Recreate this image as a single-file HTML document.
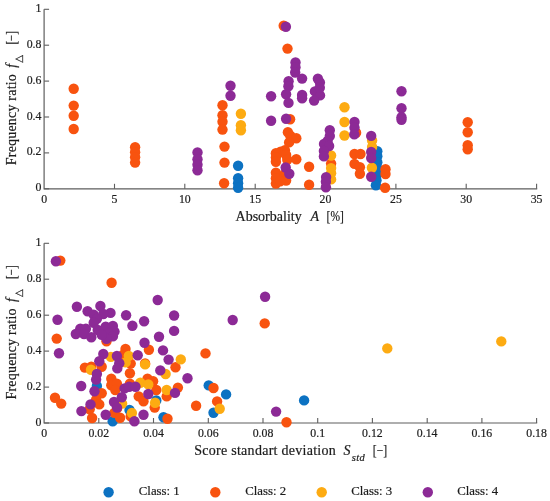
<!DOCTYPE html>
<html><head><meta charset="utf-8"><title>Scatter plots</title>
<style>
html,body{margin:0;padding:0;background:#fff}
svg{display:block}
text{font-family:"Liberation Serif","DejaVu Serif",serif;fill:#1c1c1c;stroke:#1c1c1c;stroke-width:0.2px}
.t{font-size:11.8px}
.l{font-size:14px}
.g{font-size:12.8px}
.i{font-style:italic}
</style></head><body>
<svg width="550" height="501" viewBox="0 0 550 501">
<rect width="550" height="501" fill="#fff"/>
<g id="top">
<path d="M44.1 9.3 V188.8 H537.2" fill="none" stroke="#5e5e5e" stroke-width="1.2"/>
<path d="M44.1 188.8 h5" stroke="#5e5e5e" stroke-width="1.1"/>
<path d="M44.1 152.9 h5" stroke="#5e5e5e" stroke-width="1.1"/>
<path d="M44.1 117.0 h5" stroke="#5e5e5e" stroke-width="1.1"/>
<path d="M44.1 81.1 h5" stroke="#5e5e5e" stroke-width="1.1"/>
<path d="M44.1 45.2 h5" stroke="#5e5e5e" stroke-width="1.1"/>
<path d="M44.1 9.3 h5" stroke="#5e5e5e" stroke-width="1.1"/>
<path d="M114.5 188.8 v-5" stroke="#5e5e5e" stroke-width="1.1"/>
<path d="M184.8 188.8 v-5" stroke="#5e5e5e" stroke-width="1.1"/>
<path d="M255.2 188.8 v-5" stroke="#5e5e5e" stroke-width="1.1"/>
<path d="M325.5 188.8 v-5" stroke="#5e5e5e" stroke-width="1.1"/>
<path d="M395.9 188.8 v-5" stroke="#5e5e5e" stroke-width="1.1"/>
<path d="M466.2 188.8 v-5" stroke="#5e5e5e" stroke-width="1.1"/>
<path d="M536.6 188.8 v-5" stroke="#5e5e5e" stroke-width="1.1"/>
<g fill="#0C72C2"><circle cx="238.1" cy="165.7" r="5.2"/><circle cx="238.1" cy="178.2" r="5.2"/><circle cx="238.1" cy="183.2" r="5.2"/><circle cx="238.1" cy="187.8" r="5.2"/><circle cx="377.3" cy="151.2" r="5.2"/><circle cx="377.3" cy="156.2" r="5.2"/><circle cx="377.3" cy="162.2" r="5.2"/><circle cx="377.3" cy="168.2" r="5.2"/><circle cx="377.1" cy="174.2" r="5.2"/><circle cx="376.5" cy="180.2" r="5.2"/><circle cx="375.9" cy="185.2" r="5.2"/></g>
<g fill="#F8530F"><circle cx="73.7" cy="88.8" r="5.2"/><circle cx="73.7" cy="105.6" r="5.2"/><circle cx="73.7" cy="115.8" r="5.2"/><circle cx="73.7" cy="129.0" r="5.2"/><circle cx="135.1" cy="147.2" r="5.2"/><circle cx="135.1" cy="152.2" r="5.2"/><circle cx="135.1" cy="157.2" r="5.2"/><circle cx="135.1" cy="162.6" r="5.2"/><circle cx="222.5" cy="105.2" r="5.2"/><circle cx="222.5" cy="115.2" r="5.2"/><circle cx="222.5" cy="121.8" r="5.2"/><circle cx="222.5" cy="129.6" r="5.2"/><circle cx="224.5" cy="146.6" r="5.2"/><circle cx="224.5" cy="162.6" r="5.2"/><circle cx="224.1" cy="183.2" r="5.2"/><circle cx="283.7" cy="25.8" r="5.2"/><circle cx="287.5" cy="48.6" r="5.2"/><circle cx="290.1" cy="119.2" r="5.2"/><circle cx="287.9" cy="132.2" r="5.2"/><circle cx="280.6" cy="151.7" r="5.2"/><circle cx="290.3" cy="135.8" r="5.2"/><circle cx="296.3" cy="138.2" r="5.2"/><circle cx="289.1" cy="142.4" r="5.2"/><circle cx="284.9" cy="150.2" r="5.2"/><circle cx="275.9" cy="153.2" r="5.2"/><circle cx="275.9" cy="157.4" r="5.2"/><circle cx="275.9" cy="161.8" r="5.2"/><circle cx="286.1" cy="155.0" r="5.2"/><circle cx="287.3" cy="159.8" r="5.2"/><circle cx="296.3" cy="159.2" r="5.2"/><circle cx="309.1" cy="166.8" r="5.2"/><circle cx="309.1" cy="184.8" r="5.2"/><circle cx="275.9" cy="172.8" r="5.2"/><circle cx="275.9" cy="178.2" r="5.2"/><circle cx="275.9" cy="183.6" r="5.2"/><circle cx="284.9" cy="174.0" r="5.2"/><circle cx="286.1" cy="180.6" r="5.2"/><circle cx="280.1" cy="181.2" r="5.2"/><circle cx="331.1" cy="163.6" r="5.2"/><circle cx="356.1" cy="132.8" r="5.2"/><circle cx="354.5" cy="154.0" r="5.2"/><circle cx="360.5" cy="154.0" r="5.2"/><circle cx="354.5" cy="163.9" r="5.2"/><circle cx="359.9" cy="167.2" r="5.2"/><circle cx="359.9" cy="173.8" r="5.2"/><circle cx="385.5" cy="169.2" r="5.2"/><circle cx="385.5" cy="174.0" r="5.2"/><circle cx="385.1" cy="187.8" r="5.2"/><circle cx="467.7" cy="122.2" r="5.2"/><circle cx="467.7" cy="132.2" r="5.2"/><circle cx="467.7" cy="145.2" r="5.2"/><circle cx="467.7" cy="149.2" r="5.2"/></g>
<g fill="#FDAB12"><circle cx="240.9" cy="113.8" r="5.2"/><circle cx="240.9" cy="125.2" r="5.2"/><circle cx="240.9" cy="130.2" r="5.2"/><circle cx="344.5" cy="107.2" r="5.2"/><circle cx="344.5" cy="122.0" r="5.2"/><circle cx="344.5" cy="135.5" r="5.2"/><circle cx="331.1" cy="155.5" r="5.2"/><circle cx="331.1" cy="168.1" r="5.2"/><circle cx="331.1" cy="173.2" r="5.2"/><circle cx="331.1" cy="179.4" r="5.2"/><circle cx="372.1" cy="140.5" r="5.2"/><circle cx="372.1" cy="147.0" r="5.2"/><circle cx="371.9" cy="167.7" r="5.2"/></g>
<g fill="#8C2A96"><circle cx="197.5" cy="152.4" r="5.2"/><circle cx="197.5" cy="159.2" r="5.2"/><circle cx="197.5" cy="164.8" r="5.2"/><circle cx="197.5" cy="170.2" r="5.2"/><circle cx="230.5" cy="85.8" r="5.2"/><circle cx="230.5" cy="95.8" r="5.2"/><circle cx="271.1" cy="96.2" r="5.2"/><circle cx="271.1" cy="120.7" r="5.2"/><circle cx="285.9" cy="26.8" r="5.2"/><circle cx="295.5" cy="62.4" r="5.2"/><circle cx="295.5" cy="67.2" r="5.2"/><circle cx="295.2" cy="72.5" r="5.2"/><circle cx="302.1" cy="78.6" r="5.2"/><circle cx="288.6" cy="81.2" r="5.2"/><circle cx="288.4" cy="86.2" r="5.2"/><circle cx="317.9" cy="78.8" r="5.2"/><circle cx="319.9" cy="82.4" r="5.2"/><circle cx="314.9" cy="91.4" r="5.2"/><circle cx="320.0" cy="95.4" r="5.2"/><circle cx="314.1" cy="100.6" r="5.2"/><circle cx="319.8" cy="87.8" r="5.2"/><circle cx="286.1" cy="94.2" r="5.2"/><circle cx="288.5" cy="102.9" r="5.2"/><circle cx="302.1" cy="94.9" r="5.2"/><circle cx="302.1" cy="98.2" r="5.2"/><circle cx="286.1" cy="118.8" r="5.2"/><circle cx="354.5" cy="121.9" r="5.2"/><circle cx="354.5" cy="127.8" r="5.2"/><circle cx="354.3" cy="134.4" r="5.2"/><circle cx="329.8" cy="130.3" r="5.2"/><circle cx="329.8" cy="136.0" r="5.2"/><circle cx="327.6" cy="140.9" r="5.2"/><circle cx="324.0" cy="143.9" r="5.2"/><circle cx="329.1" cy="146.0" r="5.2"/><circle cx="323.9" cy="151.0" r="5.2"/><circle cx="323.9" cy="156.4" r="5.2"/><circle cx="326.1" cy="177.1" r="5.2"/><circle cx="325.9" cy="181.8" r="5.2"/><circle cx="325.9" cy="187.2" r="5.2"/><circle cx="285.7" cy="167.5" r="5.2"/><circle cx="289.3" cy="173.7" r="5.2"/><circle cx="371.2" cy="135.9" r="5.2"/><circle cx="371.2" cy="151.9" r="5.2"/><circle cx="371.2" cy="158.0" r="5.2"/><circle cx="371.2" cy="176.7" r="5.2"/><circle cx="401.5" cy="91.2" r="5.2"/><circle cx="401.5" cy="108.2" r="5.2"/><circle cx="401.5" cy="117.2" r="5.2"/><circle cx="401.5" cy="119.8" r="5.2"/></g>
<g class="t"><text x="41.4" y="191.3" text-anchor="end">0</text>
<text x="41.4" y="155.4" text-anchor="end">0.2</text>
<text x="41.4" y="119.5" text-anchor="end">0.4</text>
<text x="41.4" y="83.6" text-anchor="end">0.6</text>
<text x="41.4" y="47.7" text-anchor="end">0.8</text>
<text x="41.4" y="11.8" text-anchor="end">1</text><text x="44.1" y="202.8" text-anchor="middle">0</text>
<text x="114.5" y="202.8" text-anchor="middle">5</text>
<text x="184.8" y="202.8" text-anchor="middle">10</text>
<text x="255.2" y="202.8" text-anchor="middle">15</text>
<text x="325.5" y="202.8" text-anchor="middle">20</text>
<text x="395.9" y="202.8" text-anchor="middle">25</text>
<text x="466.2" y="202.8" text-anchor="middle">30</text>
<text x="536.6" y="202.8" text-anchor="middle">35</text></g>
<text class="l" x="235.5" y="221.4" textLength="66.2" lengthAdjust="spacing">Absorbality</text><text class="l i" x="310.6" y="221.4">A</text><text class="l" x="326.6" y="221.4" textLength="17.2" lengthAdjust="spacingAndGlyphs">[%]</text>
<g transform="translate(16 165.2) rotate(-90)"><text class="l" textLength="91" lengthAdjust="spacing">Frequency ratio</text><text class="l i" x="97.5">f</text><text font-size="10" x="102.5" y="6.2">△</text><text class="l" x="120.6" textLength="13.5" lengthAdjust="spacingAndGlyphs">[−]</text></g>
</g>
<g id="bot">
<path d="M44.1 243.3 V423.0 H537.2" fill="none" stroke="#5e5e5e" stroke-width="1.2"/>
<path d="M44.1 423.0 h5" stroke="#5e5e5e" stroke-width="1.1"/>
<path d="M44.1 387.1 h5" stroke="#5e5e5e" stroke-width="1.1"/>
<path d="M44.1 351.1 h5" stroke="#5e5e5e" stroke-width="1.1"/>
<path d="M44.1 315.2 h5" stroke="#5e5e5e" stroke-width="1.1"/>
<path d="M44.1 279.2 h5" stroke="#5e5e5e" stroke-width="1.1"/>
<path d="M44.1 243.3 h5" stroke="#5e5e5e" stroke-width="1.1"/>
<path d="M98.8 423.0 v-5" stroke="#5e5e5e" stroke-width="1.1"/>
<path d="M153.5 423.0 v-5" stroke="#5e5e5e" stroke-width="1.1"/>
<path d="M208.3 423.0 v-5" stroke="#5e5e5e" stroke-width="1.1"/>
<path d="M263.0 423.0 v-5" stroke="#5e5e5e" stroke-width="1.1"/>
<path d="M317.7 423.0 v-5" stroke="#5e5e5e" stroke-width="1.1"/>
<path d="M372.4 423.0 v-5" stroke="#5e5e5e" stroke-width="1.1"/>
<path d="M427.2 423.0 v-5" stroke="#5e5e5e" stroke-width="1.1"/>
<path d="M481.9 423.0 v-5" stroke="#5e5e5e" stroke-width="1.1"/>
<path d="M536.6 423.0 v-5" stroke="#5e5e5e" stroke-width="1.1"/>
<g fill="#0C72C2"><circle cx="96.9" cy="386.0" r="5.2"/><circle cx="112.7" cy="421.2" r="5.2"/><circle cx="156.3" cy="400.4" r="5.2"/><circle cx="129.5" cy="410.0" r="5.2"/><circle cx="163.5" cy="417.2" r="5.2"/><circle cx="208.7" cy="385.4" r="5.2"/><circle cx="226.1" cy="394.4" r="5.2"/><circle cx="213.5" cy="412.8" r="5.2"/><circle cx="304.1" cy="400.4" r="5.2"/></g>
<g fill="#F8530F"><circle cx="60.3" cy="260.6" r="5.2"/><circle cx="111.6" cy="282.8" r="5.2"/><circle cx="56.7" cy="338.6" r="5.2"/><circle cx="106.5" cy="341.2" r="5.2"/><circle cx="125.5" cy="349.0" r="5.2"/><circle cx="123.3" cy="354.8" r="5.2"/><circle cx="148.9" cy="349.8" r="5.2"/><circle cx="55.0" cy="397.7" r="5.2"/><circle cx="61.2" cy="403.6" r="5.2"/><circle cx="84.9" cy="367.6" r="5.2"/><circle cx="91.3" cy="366.8" r="5.2"/><circle cx="101.7" cy="366.8" r="5.2"/><circle cx="101.7" cy="393.2" r="5.2"/><circle cx="96.1" cy="399.6" r="5.2"/><circle cx="99.3" cy="404.4" r="5.2"/><circle cx="89.7" cy="409.2" r="5.2"/><circle cx="92.1" cy="418.0" r="5.2"/><circle cx="111.3" cy="378.8" r="5.2"/><circle cx="111.3" cy="385.2" r="5.2"/><circle cx="116.9" cy="383.6" r="5.2"/><circle cx="115.3" cy="390.0" r="5.2"/><circle cx="114.3" cy="412.9" r="5.2"/><circle cx="120.1" cy="417.7" r="5.2"/><circle cx="117.1" cy="408.4" r="5.2"/><circle cx="130.7" cy="363.6" r="5.2"/><circle cx="129.9" cy="373.2" r="5.2"/><circle cx="145.1" cy="363.4" r="5.2"/><circle cx="175.5" cy="367.2" r="5.2"/><circle cx="147.5" cy="378.8" r="5.2"/><circle cx="153.1" cy="381.2" r="5.2"/><circle cx="156.3" cy="390.0" r="5.2"/><circle cx="129.9" cy="383.6" r="5.2"/><circle cx="138.7" cy="396.4" r="5.2"/><circle cx="143.5" cy="401.2" r="5.2"/><circle cx="177.9" cy="387.6" r="5.2"/><circle cx="166.7" cy="396.4" r="5.2"/><circle cx="154.7" cy="407.6" r="5.2"/><circle cx="130.7" cy="416.4" r="5.2"/><circle cx="167.5" cy="418.8" r="5.2"/><circle cx="205.5" cy="353.4" r="5.2"/><circle cx="264.7" cy="323.4" r="5.2"/><circle cx="213.5" cy="388.0" r="5.2"/><circle cx="217.1" cy="401.4" r="5.2"/><circle cx="196.1" cy="405.8" r="5.2"/><circle cx="286.5" cy="422.2" r="5.2"/></g>
<g fill="#FDAB12"><circle cx="110.9" cy="356.9" r="5.2"/><circle cx="128.8" cy="355.9" r="5.2"/><circle cx="125.6" cy="362.4" r="5.2"/><circle cx="91.0" cy="369.7" r="5.2"/><circle cx="145.1" cy="364.4" r="5.2"/><circle cx="180.8" cy="359.4" r="5.2"/><circle cx="165.6" cy="374.0" r="5.2"/><circle cx="140.3" cy="382.8" r="5.2"/><circle cx="148.3" cy="384.4" r="5.2"/><circle cx="166.7" cy="390.0" r="5.2"/><circle cx="155.1" cy="402.8" r="5.2"/><circle cx="122.1" cy="403.6" r="5.2"/><circle cx="131.9" cy="413.0" r="5.2"/><circle cx="219.7" cy="408.8" r="5.2"/><circle cx="387.3" cy="348.4" r="5.2"/><circle cx="501.3" cy="341.4" r="5.2"/></g>
<g fill="#8C2A96"><circle cx="55.9" cy="261.2" r="5.2"/><circle cx="57.5" cy="319.7" r="5.2"/><circle cx="76.9" cy="306.8" r="5.2"/><circle cx="87.6" cy="311.2" r="5.2"/><circle cx="100.4" cy="306.0" r="5.2"/><circle cx="110.5" cy="312.9" r="5.2"/><circle cx="93.7" cy="314.8" r="5.2"/><circle cx="103.3" cy="314.0" r="5.2"/><circle cx="96.9" cy="318.8" r="5.2"/><circle cx="93.7" cy="322.8" r="5.2"/><circle cx="80.3" cy="328.6" r="5.2"/><circle cx="85.9" cy="328.8" r="5.2"/><circle cx="75.8" cy="334.0" r="5.2"/><circle cx="84.1" cy="334.0" r="5.2"/><circle cx="91.3" cy="337.2" r="5.2"/><circle cx="97.7" cy="330.0" r="5.2"/><circle cx="105.7" cy="326.8" r="5.2"/><circle cx="112.9" cy="326.0" r="5.2"/><circle cx="114.5" cy="331.6" r="5.2"/><circle cx="108.1" cy="333.2" r="5.2"/><circle cx="112.9" cy="336.4" r="5.2"/><circle cx="106.5" cy="338.8" r="5.2"/><circle cx="101.7" cy="334.8" r="5.2"/><circle cx="126.1" cy="315.2" r="5.2"/><circle cx="132.4" cy="325.7" r="5.2"/><circle cx="144.1" cy="321.2" r="5.2"/><circle cx="144.5" cy="342.8" r="5.2"/><circle cx="137.7" cy="355.2" r="5.2"/><circle cx="103.3" cy="354.0" r="5.2"/><circle cx="116.9" cy="356.0" r="5.2"/><circle cx="59.0" cy="353.2" r="5.2"/><circle cx="81.2" cy="386.0" r="5.2"/><circle cx="81.4" cy="411.1" r="5.2"/><circle cx="99.3" cy="361.2" r="5.2"/><circle cx="96.9" cy="374.0" r="5.2"/><circle cx="96.1" cy="379.6" r="5.2"/><circle cx="94.5" cy="391.2" r="5.2"/><circle cx="90.5" cy="404.4" r="5.2"/><circle cx="105.7" cy="414.8" r="5.2"/><circle cx="119.3" cy="363.2" r="5.2"/><circle cx="117.3" cy="368.4" r="5.2"/><circle cx="124.6" cy="388.4" r="5.2"/><circle cx="121.8" cy="397.2" r="5.2"/><circle cx="114.0" cy="402.0" r="5.2"/><circle cx="117.0" cy="407.6" r="5.2"/><circle cx="163.0" cy="350.4" r="5.2"/><circle cx="168.6" cy="359.6" r="5.2"/><circle cx="160.3" cy="370.4" r="5.2"/><circle cx="187.5" cy="378.2" r="5.2"/><circle cx="129.1" cy="386.8" r="5.2"/><circle cx="135.5" cy="386.8" r="5.2"/><circle cx="148.3" cy="394.0" r="5.2"/><circle cx="175.0" cy="392.9" r="5.2"/><circle cx="143.5" cy="414.8" r="5.2"/><circle cx="134.4" cy="421.2" r="5.2"/><circle cx="157.7" cy="300.0" r="5.2"/><circle cx="174.1" cy="315.5" r="5.2"/><circle cx="174.1" cy="330.9" r="5.2"/><circle cx="159.0" cy="336.8" r="5.2"/><circle cx="265.1" cy="296.8" r="5.2"/><circle cx="232.7" cy="320.0" r="5.2"/><circle cx="276.1" cy="411.6" r="5.2"/></g>
<g class="t"><text x="41.4" y="425.5" text-anchor="end">0</text>
<text x="41.4" y="389.6" text-anchor="end">0.2</text>
<text x="41.4" y="353.6" text-anchor="end">0.4</text>
<text x="41.4" y="317.7" text-anchor="end">0.6</text>
<text x="41.4" y="281.7" text-anchor="end">0.8</text>
<text x="41.4" y="245.8" text-anchor="end">1</text><text x="44.1" y="437.0" text-anchor="middle">0</text>
<text x="98.8" y="437.0" text-anchor="middle">0.02</text>
<text x="153.5" y="437.0" text-anchor="middle">0.04</text>
<text x="208.3" y="437.0" text-anchor="middle">0.06</text>
<text x="263.0" y="437.0" text-anchor="middle">0.08</text>
<text x="317.7" y="437.0" text-anchor="middle">0.1</text>
<text x="372.4" y="437.0" text-anchor="middle">0.12</text>
<text x="427.2" y="437.0" text-anchor="middle">0.14</text>
<text x="481.9" y="437.0" text-anchor="middle">0.16</text>
<text x="536.6" y="437.0" text-anchor="middle">0.18</text></g>
<text class="l" x="194.2" y="455.2" textLength="141.6" lengthAdjust="spacing">Score standart deviation</text><text class="l i" x="343.4" y="455.2">S</text><text class="i" font-size="10.5" letter-spacing="0.3" x="351.8" y="460.8">std</text><text class="l" x="372.8" y="455.2" textLength="14.4" lengthAdjust="spacingAndGlyphs">[−]</text>
<g transform="translate(16 399.5) rotate(-90)"><text class="l" textLength="91" lengthAdjust="spacing">Frequency ratio</text><text class="l i" x="97.5">f</text><text font-size="10" x="102.5" y="6.2">△</text><text class="l" x="120.6" textLength="13.5" lengthAdjust="spacingAndGlyphs">[−]</text></g>
</g>
<g id="legend" class="g">
<circle cx="108.6" cy="492.2" r="5.2" fill="#0C72C2"/><text x="138.8" y="494.7">Class: 1</text>
<circle cx="215.3" cy="492.2" r="5.2" fill="#F8530F"/><text x="245.2" y="494.7">Class: 2</text>
<circle cx="321.7" cy="492.2" r="5.2" fill="#FDAB12"/><text x="351.2" y="494.7">Class: 3</text>
<circle cx="427.8" cy="492.2" r="5.2" fill="#8C2A96"/><text x="457.2" y="494.7">Class: 4</text>
</g>
</svg>
</body></html>
